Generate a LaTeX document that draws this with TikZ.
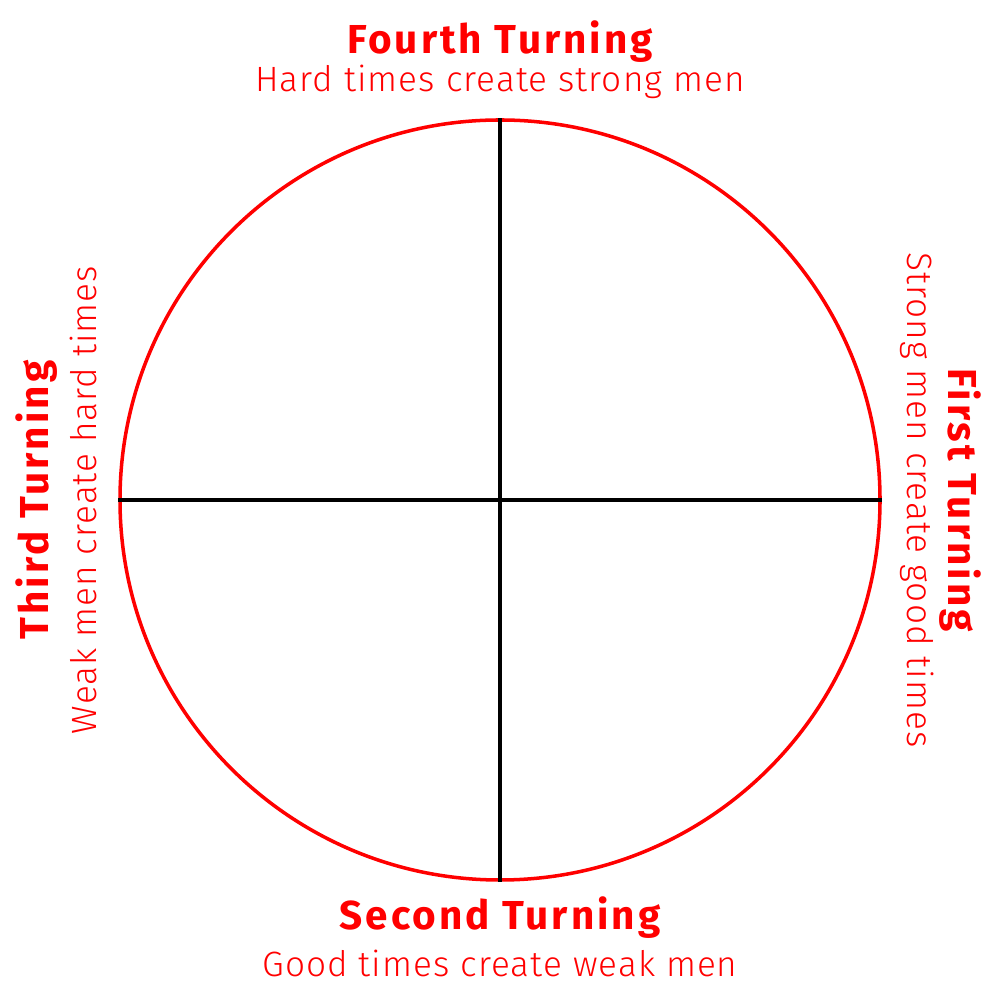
\documentclass[tikz,border=0pt]{standalone}
\usepackage{fontspec}
\setmainfont{Fira Sans}[UprightFont=* Light,BoldFont=* Bold]
\usepackage{xcolor}
\usetikzlibrary{positioning}
\definecolor{turnred}{RGB}{255,0,0}

\begin{document}
\begin{tikzpicture}[
          heading/.style={text=turnred,font=\fontsize{11.5}{13}\selectfont\bfseries\addfontfeatures{LetterSpace=7.5},inner sep=0pt},
          motto/.style={text=turnred,font=\fontsize{10}{12}\selectfont\addfontfeatures{LetterSpace=3},inner sep=0pt}]
          \useasboundingbox (-5,-5) rectangle (5,5);
          \node[circle,draw=turnred,line width=1pt,minimum size=7.6cm,inner sep=0pt](wheel) at (0,0){};
          \draw[line width=1pt](wheel.north)--(wheel.south);
          \draw[line width=1pt](wheel.west)--(wheel.east);
          % top and bottom
          \node[heading](fourth) at (0,4.58){Fourth Turning};
          \node[motto](hard) at (0,4.18){Hard times create strong men};
          \node[heading](second) at (0,-4.18){Second Turning};
          \node[motto](good) at (0,-4.63){Good times create weak men};
          % left and right
          \node[heading,rotate=90](third) at (-4.63,0){Third Turning};
          \node[motto,rotate=90](weak) at (-4.17,0){Weak men create hard times};
          \node[heading,rotate=-90](first) at (4.6,0){First Turning};
          \node[motto,rotate=-90](strong) at (4.17,0){Strong men create good times};
        \end{tikzpicture}
\end{document}
